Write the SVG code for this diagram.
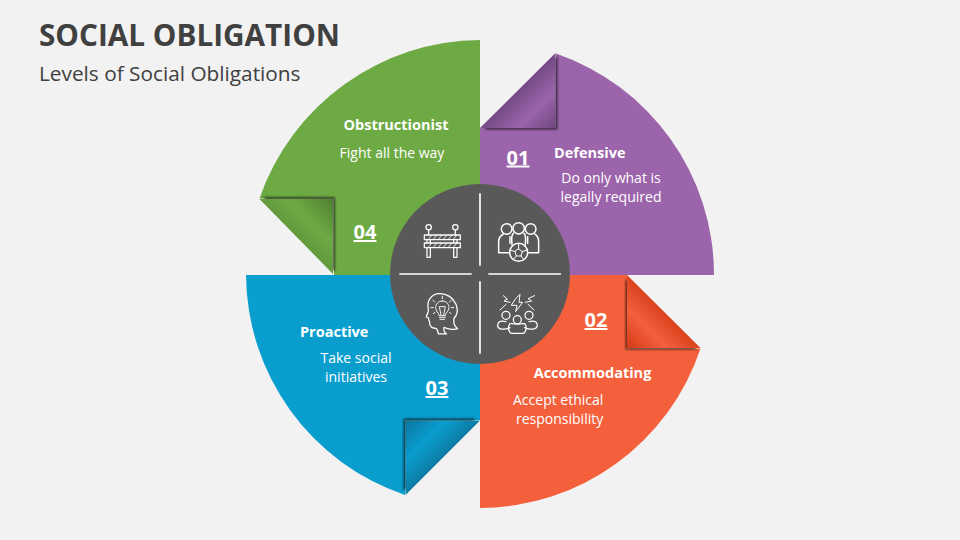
<svg xmlns="http://www.w3.org/2000/svg" width="960" height="540" viewBox="0 0 960 540">
<style>
text{font-family:"Open Sans","Noto Sans",sans-serif;fill:#fff;font-size:14px}
.h{font-weight:700;font-size:14.5px}
.n{font-weight:700;font-size:20px;text-decoration:underline;text-anchor:middle}
.m{text-anchor:middle}
.i{fill:none;stroke:#fff;stroke-width:3.8;stroke-linecap:round;stroke-linejoin:round}
.s{fill:#000;fill-opacity:.6;filter:url(#b)}
</style>
<defs>
<filter id="b" x="-20%" y="-20%" width="140%" height="140%"><feGaussianBlur stdDeviation="1.3"/></filter>
<linearGradient id="gp" x1="0" y1="0" x2="1" y2="1"><stop offset="0.5" stop-color="#744A86"/><stop offset="0.75" stop-color="#9B64AB"/><stop offset="1" stop-color="#6F4580"/></linearGradient>
<linearGradient id="gr" x1="0" y1="1" x2="1" y2="0"><stop offset="0" stop-color="#D23A15"/><stop offset="0.27" stop-color="#F4603C"/><stop offset="0.5" stop-color="#D9441F"/></linearGradient>
<linearGradient id="gb" x1="0" y1="0" x2="1" y2="1"><stop offset="0" stop-color="#0A769C"/><stop offset="0.27" stop-color="#0A9ECF"/><stop offset="0.5" stop-color="#0A7BA3"/></linearGradient>
<linearGradient id="gg" x1="1" y1="0" x2="0" y2="1"><stop offset="0" stop-color="#4F7F30"/><stop offset="0.3" stop-color="#6DAA44"/><stop offset="0.5" stop-color="#629A3C"/></linearGradient>
</defs>
<rect width="960" height="540" fill="#f2f2f2"/>
<text x="39" y="45.700" textLength="301" lengthAdjust="spacingAndGlyphs" style="font-size:31px;font-weight:700;fill:#404040">SOCIAL OBLIGATION</text>
<text x="39" y="80.500" style="font-size:20.800px;fill:#404040">Levels of Social Obligations</text>

<g id="node-obstructionist">
<path d="M480 40V275H334V198.500H259.500A235 235 0 0 1 480 40Z" fill="#6DAA44"/>
<path d="M263 197H335V272Z" class="s"/>
<path d="M259.500 199H333V274Z" fill="url(#gg)"/>
<text x="396" y="130" class="h m">Obstructionist</text>
<text x="392" y="158" class="m">Fight all the way</text>
<text x="365" y="239" class="n">04</text>
</g>
<g id="node-defensive">
<path d="M480 128H556V53.500A234 234 0 0 1 714 275H480Z" fill="#9B64AB"/>
<path d="M484 129.500H557.500V56Z" class="s"/>
<path d="M480 128H555.500V53Z" fill="url(#gp)"/>
<text x="554" y="158" class="h">Defensive</text>
<text x="611" y="183" class="m">Do only what is</text>
<text x="611" y="202" class="m">legally required</text>
<text x="518" y="164.500" class="n">01</text>
</g>
<g id="node-accommodating">
<path d="M480 275H627V348.500H700.500A233 233 0 0 1 480 508Z" fill="#F4603C"/>
<path d="M625.500 279V349.500H697Z" class="s"/>
<path d="M627 275V348H700.500Z" fill="url(#gr)"/>
<text x="592.500" y="378" class="h m">Accommodating</text>
<text x="513" y="405">Accept ethical</text>
<text x="516" y="424">responsibility</text>
<text x="596" y="327" class="n">02</text>
</g>
<g id="node-proactive">
<path d="M246 275H480V420H405V495A234 234 0 0 1 246 275Z" fill="#0A9ECF"/>
<path d="M403.500 418.500H476L403.500 491Z" class="s"/>
<path d="M405.500 420.500H480L405.500 495Z" fill="url(#gb)"/>
<text x="300" y="337" class="h">Proactive</text>
<text x="356" y="363" class="m">Take social</text>
<text x="356" y="382" class="m">initiatives</text>
<text x="437" y="395" class="n">03</text>
</g>

<g id="node-center">
<circle cx="480" cy="274" r="90" fill="#595959"/>
<g transform="translate(380 175) scale(.3333)">
<g id="connectors" fill="none" stroke="#fff" stroke-width="5">
<path d="M300 55V272M300 319V536M58 297H275M325 297H543"/>
</g>
<g id="icon-barrier" class="i">
<circle cx="146" cy="157" r="8"/><circle cx="226" cy="157" r="8"/>
<path d="M146 165V180M226 165V180M141 194V204M151 194V204M221 194V204M231 194V204M141 218V247H151V218M221 218V247H231V218"/>
<rect x="133" y="180" width="108" height="14"/><rect x="133" y="204" width="108" height="14"/>
<path d="M145 193L155 181M160 193L170 181M175 193L185 181M190 193L200 181M205 193L215 181M220 193L230 181M145 217L155 205M160 217L170 205M175 217L185 205M190 217L200 205M205 217L215 205M220 217L230 205" stroke-width="2.400"/>
</g>
<g id="icon-people" class="i" style="stroke-width:4.500">
<circle cx="380" cy="162" r="16"/><circle cx="416" cy="160" r="17"/><circle cx="452" cy="162" r="16"/>
<path d="M370 177C360 183 356 190 356 200V233H390M390 185V205M464 177C473 183 476 190 476 200V233H443M443 185V205M400 175C392 182 396 195 396 210M432 175C440 182 436 195 436 210"/>
<circle cx="416" cy="232" r="27"/>
<path d="M416 222L427 230L423 243H409L405 230ZM416 222V206M427 230L441 225M423 243L432 254M409 243L400 254M405 230L391 225" stroke-width="3"/>
</g>
<g id="icon-head" class="i">
<path d="M200 477C192 473 190 462 192 457C200 462 220 465 233 461C222 452 220 445 222 430C232 420 235 405 228 388C220 368 200 355 178 356C155 357 142 375 144 395C145 405 147 408 143 415C140 420 139 423 139 426L146 429C145 435 147 437 149 441C148 446 150 451 152 453C153 458 158 460 168 460C172 462 174 470 175 477Z"/>
<path d="M187 378C174 378 167 388 167 398C167 408 176 412 177 422H196C197 412 207 408 207 398C207 388 200 378 187 378ZM178 427H196M180 433H194M183 420L178 395H196L191 420" stroke-width="2.800"/>
<path d="M187 364V371M159 376L164 381M214 376L209 381M153 398H160M214 398H221M160 416L165 412M213 416L209 412" stroke-width="3"/>
</g>
<g id="icon-conflict" class="i">
<path d="M408 370L420 358L417 382L428 382L407 410L411 391L395 391Z" stroke-width="3"/>
<path d="M360 405L378 388M370 362L382 372L372 378L390 382M462 405L444 388M464 362L444 371L455 378L436 382" stroke-width="3"/>
<circle cx="378" cy="421" r="12"/><circle cx="412" cy="434" r="12"/><circle cx="447" cy="421" r="12"/>
<path d="M388 450C388 442 394 448 412 447C430 448 436 442 436 450C442 458 436 474 430 475H394C388 474 382 458 388 450ZM390 458C372 466 352 464 353 450C354 438 365 436 378 440M434 458C452 466 472 464 472 450C471 438 460 436 447 440"/>
</g>
</g>
</g>
</svg>
